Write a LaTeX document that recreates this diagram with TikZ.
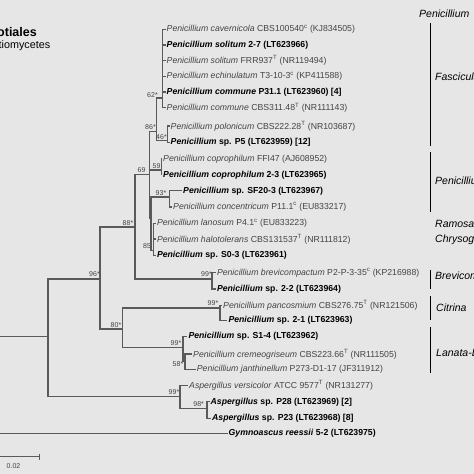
\documentclass[tikz,border=0pt]{standalone}
\usepackage{fontspec}
\setmainfont{Liberation Sans}
\usetikzlibrary{positioning}
\definecolor{bgc}{RGB}{230,230,230}
\definecolor{brc}{RGB}{90,90,90}
\definecolor{txc}{RGB}{68,68,68}

\begin{document}
\begin{tikzpicture}[x=1pt,y=-1pt,
	br/.style={draw=brc, line width=1.2pt},
	bar/.style={draw=black, line width=1pt},
	lf/.style={anchor=west, inner sep=1pt, text=txc, font=\fontsize{8.7}{10}\selectfont},
	ib/.style={anchor=west, inner sep=1pt, text=black, font=\fontsize{8.7}{10}\selectfont\bfseries},
	bs/.style={inner sep=0pt, text=txc, font=\fontsize{7}{8}\selectfont},
	cl/.style={anchor=west, inner sep=0pt, text=black, font=\fontsize{10.5}{12}\selectfont\itshape}]
	\fill[bgc] (0,0) rectangle (474,474);
	\useasboundingbox (0,0) rectangle (474,474);
	\clip (0,0) rectangle (474,474);

	\node[anchor=east, inner sep=0pt, font=\fontsize{12.5}{14}\selectfont\bfseries] (ord) at (37,32) {Eurotiales};
	\node[anchor=east, inner sep=0pt, font=\fontsize{10.8}{12}\selectfont] (cls) at (50.5,45.5) {Eurotiomycetes};

	\node[lf] (l1) at (165.5,29.3) {\textit{Penicillium cavernicola} CBS100540\textsuperscript{c} (KJ834505)};
	\node[ib] (l2) at (165.5,45) {\textit{Penicillium solitum} 2-7 (LT623966)};
	\node[lf] (l3) at (165.5,60.7) {\textit{Penicillium solitum} FRR937\textsuperscript{T} (NR119494)};
	\node[lf] (l4) at (165.5,76.3) {\textit{Penicillium echinulatum} T3-10-3\textsuperscript{c} (KP411588)};
	\node[ib] (l5) at (165.5,92) {\textit{Penicillium commune} P31.1 (LT623960) [4]};
	\node[lf] (l6) at (165.5,107.8) {\textit{Penicillium commune} CBS311.48\textsuperscript{T} (NR111143)};
	\node[lf] (l7) at (169.5,126) {\textit{Penicillium polonicum} CBS222.28\textsuperscript{T} (NR103687)};
	\node[ib] (l8) at (169.5,142.5) {\textit{Penicillium} sp. P5 (LT623959) [12]};
	\node[lf] (l9) at (162,159) {\textit{Penicillium coprophilum} FFI47 (AJ608952)};
	\node[ib] (l10) at (162,174.8) {\textit{Penicillium coprophilum} 2-3 (LT623965)};
	\node[ib] (l11) at (182,190.8) {\textit{Penicillium} sp. SF20-3 (LT623967)};
	\node[lf] (l12) at (172,207) {\textit{Penicillium concentricum} P11.1\textsuperscript{c} (EU833217)};
	\node[lf] (l13) at (155.8,223.2) {\textit{Penicillium lanosum} P4.1\textsuperscript{c} (EU833223)};
	\node[lf] (l14) at (155.8,239) {\textit{Penicillium halotolerans} CBS131537\textsuperscript{T} (NR111812)};
	\node[ib] (l15) at (155.8,255.3) {\textit{Penicillium} sp. S0-3 (LT623961)};
	\node[lf] (l16) at (215.8,272.8) {\textit{Penicillium brevicompactum} P2-P-3-35\textsuperscript{c} (KP216988)};
	\node[ib] (l17) at (215.8,289) {\textit{Penicillium} sp. 2-2 (LT623964)};
	\node[lf] (l18) at (222,305.3) {\textit{Penicillium pancosmium} CBS276.75\textsuperscript{T} (NR121506)};
	\node[ib] (l19) at (227.3,320.3) {\textit{Penicillium} sp. 2-1 (LT623963)};
	\node[ib] (l20) at (187.3,336.5) {\textit{Penicillium} sp. S1-4 (LT623962)};
	\node[lf] (l21) at (192,354) {\textit{Penicillium cremeogriseum} CBS223.66\textsuperscript{T} (NR111505)};
	\node[lf] (l22) at (195.7,369.5) {\textit{Penicillium janthinellum} P273-D1-17 (JF311912)};
	\node[lf] (l23) at (188,385.3) {\textit{Aspergillus versicolor} ATCC 9577\textsuperscript{T} (NR131277)};
	\node[ib] (l24) at (209.5,401.8) {\textit{Aspergillus} sp. P28 (LT623969) [2]};
	\node[ib] (l25) at (211,418.5) {\textit{Aspergillus} sp. P23 (LT623968) [8]};
	\node[ib] (l26) at (227.5,433.5) {\textit{Gymnoascus reessii} 5-2 (LT623975)};

	\coordinate (root) at (-3,385);
	\coordinate (n0) at (48,336.7);
	\coordinate (n96) at (100,279);
	\coordinate (n88) at (135,227);
	\coordinate (n69) at (149.3,174.5);
	\coordinate (n86) at (156.7,131.7);
	\coordinate (n62) at (162.5,98);
	\coordinate (n46) at (167.3,140.5);
	\coordinate (n59) at (161.3,170);
	\coordinate (nlow) at (151,218);
	\coordinate (n93) at (169.3,197);
	\coordinate (n85) at (153.5,250.5);
	\coordinate (nb99) at (212,279);
	\coordinate (n80) at (122.7,329);
	\coordinate (nc99) at (220,308);
	\coordinate (nd99) at (183,347.7);
	\coordinate (n58) at (185,361);
	\coordinate (na99) at (180,396.7);
	\coordinate (n98) at (207,408.3);

	\draw[br] (root) |- (n0);
	\draw[br] (root) |- (l26.west);
	\draw[br] (n0) |- (n96);
	\draw[br] (n0) |- (na99);
	\draw[br] (n96) |- (n88);
	\draw[br] (n96) |- (n80);
	\draw[br] (n88) |- (n69);
	\draw[br] (n88) |- (nb99);
	\draw[br] (n69) |- (n86);
	\draw[br] (n69) |- (n59);
	\draw[br] (n69) |- (nlow);
	\draw[br] (n86) |- (n62);
	\draw[br] (n86) |- (n46);
	\foreach \k in {1,...,6}
		\draw[br] (n62) |- (l\k.west);
	\draw[br] (n46) |- (l7.west);
	\draw[br] (n46) |- (l8.west);
	\draw[br] (n59) |- (l9.west);
	\draw[br] (n59) |- (l10.west);
	\draw[br] (nlow) |- (n93);
	\draw[br] (nlow) |- (n85);
	\draw[br] (n93) |- (l11.west);
	\draw[br] (n93) |- (l12.west);
	\foreach \k in {13,14,15}
		\draw[br] (n85) |- (l\k.west);
	\draw[br] (nb99) |- (l16.west);
	\draw[br] (nb99) |- (l17.west);
	\draw[br] (n80) |- (nc99);
	\draw[br] (n80) |- (nd99);
	\draw[br] (nc99) |- (l18.west);
	\draw[br] (nc99) |- (l19.west);
	\draw[br] (nd99) |- (l20.west);
	\draw[br] (nd99) |- (n58);
	\draw[br] (n58) |- (l21.west);
	\draw[br] (n58) |- (l22.west);
	\draw[br] (na99) |- (l23.west);
	\draw[br] (na99) |- (n98);
	\draw[br] (n98) |- (l24.west);
	\draw[br] (n98) |- (l25.west);

	\node[bs] (b62) at (152.5,95.5) {62*};
	\node[bs] (b86) at (150.5,127.5) {86*};
	\node[bs] (b46) at (161.5,137) {46*};
	\node[bs] (b59) at (156.5,166) {59};
	\node[bs] (b69) at (141.5,170) {69};
	\node[bs] (b93) at (161,193) {93*};
	\node[bs] (b85) at (147,246.5) {85};
	\node[bs] (b88) at (128,223) {88*};
	\node[bs] (b96) at (94.5,274.5) {96*};
	\node[bs] (bb99) at (206.5,274) {99*};
	\node[bs] (b80) at (116,325) {80*};
	\node[bs] (bc99) at (213,303.5) {99*};
	\node[bs] (bd99) at (176,343) {99*};
	\node[bs] (b58) at (178,364.5) {58*};
	\node[bs] (ba99) at (174,392.3) {99*};
	\node[bs] (b98) at (198.7,404) {98*};

	\draw[bar] (430,23) -- (430,146);
	\draw[bar] (430,152) -- (430,212);
	\draw[bar] (430,270) -- (430,289);
	\draw[bar] (430,296) -- (430,320);
	\draw[bar] (430,327) -- (430,373);
	\node[cl] (gen) at (419,14) {Penicillium};
	\node[cl] (cfas) at (435,76.5) {Fasciculata};
	\node[cl] (cpen) at (435,180.5) {Penicillium};
	\node[cl] (cram) at (435,224) {Ramosa};
	\node[cl] (cchr) at (435,239.5) {Chrysogena};
	\node[cl] (cbre) at (435,277) {Brevicompacta};
	\node[cl] (ccit) at (436,308) {Citrina};
	\node[cl] (clan) at (436,353) {Lanata-Divaricata};

	\coordinate (sb1) at (-2,456.7);
	\coordinate (sb2) at (39,456.7);
	\draw[draw=brc, line width=0.9pt] (sb1) -- (sb2);
	\draw[draw=brc, line width=0.9pt] ([yshift=3pt]sb2) -- ([yshift=-3pt]sb2);
	\node[bs] (sbl) at (13.5,466.5) {0.02};
\end{tikzpicture}
\end{document}
